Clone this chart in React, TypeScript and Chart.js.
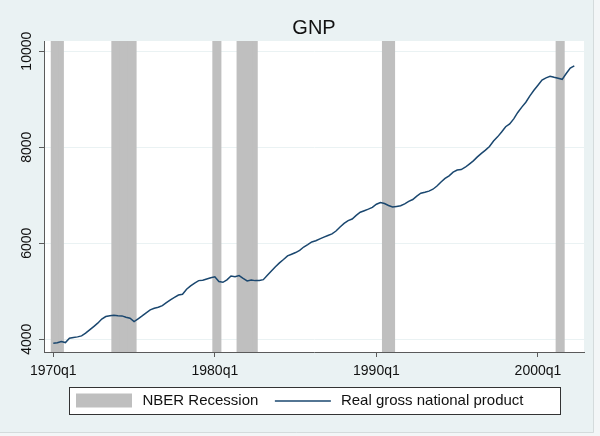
import { useEffect, useRef } from "react";
import { Chart, registerables } from "chart.js";

Chart.register(...registerables);

// Quarter indices count from 1970q1
const START_YEAR = 1970;

// Real gross national product, quarterly, 1970q1 – 2002q2
const gnp1970s = [
  3917, 3924, 3951, 3930, // 1970
  4021, 4035, 4048, 4069, // 1971
  4125, 4194, 4263, 4333, // 1972
  4420, 4471, 4490, 4499, // 1973
  4490, 4485, 4457, 4437, // 1974
  4367, 4425, 4485, 4550, // 1975
  4610, 4645, 4665, 4700, // 1976
  4760, 4820, 4870, 4920, // 1977
  4935, 5040, 5110, 5170, // 1978
  5220, 5230, 5255, 5280, // 1979
];
const gnp1980s = [
  5300, 5200, 5185, 5235, // 1980
  5315, 5300, 5325, 5265, // 1981
  5215, 5234, 5220, 5222, // 1982
  5240, 5330, 5420, 5510, // 1983
  5590, 5660, 5735, 5770, // 1984
  5805, 5850, 5920, 5970, // 1985
  6025, 6050, 6090, 6125, // 1986
  6160, 6195, 6253, 6337, // 1987
  6412, 6471, 6504, 6580, // 1988
  6645, 6676, 6709, 6745, // 1989
];
const gnp1990s = [
  6811, 6848, 6827, 6785, // 1990
  6753, 6766, 6780, 6820, // 1991
  6870, 6910, 6980, 7040, // 1992
  7060, 7085, 7124, 7190, // 1993
  7276, 7348, 7403, 7480, // 1994
  7523, 7534, 7582, 7648, // 1995
  7714, 7797, 7871, 7940, // 1996
  8015, 8130, 8215, 8316, // 1997
  8426, 8484, 8590, 8723, // 1998
  8835, 8936, 9070, 9186, // 1999
];
const gnp2000s = [
  9292, 9400, 9445, 9477, // 2000
  9455, 9437, 9414, 9535, // 2001
  9648, 9693, // 2002
];
const gnp = [...gnp1970s, ...gnp1980s, ...gnp1990s, ...gnp2000s];

// NBER recession quarters within the sample (first and last shaded quarter)
const recessionStarts = ["1970q1", "1973q4", "1980q1", "1981q3", "1990q3", "2001q2"];
const recessionEnds = ["1970q3", "1975q1", "1980q2", "1982q3", "1991q1", "2001q3"];

// Axis ticks
const xTickLabels = ["1970q1", "1980q1", "1990q1", "2000q1"];
const yTickValues = [4000, 6000, 8000, 10000];

const TITLE = "GNP";
const LINE_LABEL = "Real gross national product";
const RECESSION_LABEL = "NBER Recession";

// Axis extents
const X_MIN = -2.3;
const X_MAX = 131.4;
const Y_MIN = 3733;
const Y_MAX = 10212;

// Styling
const FONT = "'Liberation Sans', Arial, Helvetica, sans-serif";
const BG = "#eaf2f3";
const NAVY = "#1a476f";
const SHADE = "#bfbfbf";
const GRID = "#eaf2f3";
const AXIS = "#5a5a5a";
const TEXT = "#111111";

const quarterIndex = (label: string) => {
  const [y, q] = label.split("q");
  return (Number(y) - START_YEAR) * 4 + (Number(q) - 1);
};
const quarterLabel = (i: number) =>
  `${START_YEAR + Math.floor(i / 4)}q${(i % 4) + 1}`;

const recessionQuarters: number[] = [];
recessionStarts.forEach((s, k) => {
  for (let q = quarterIndex(s); q <= quarterIndex(recessionEnds[k]); q++) {
    recessionQuarters.push(q);
  }
});

// Graph region background, plot region fill and outer frame
const backdrop = {
  id: "backdrop",
  beforeDraw(chart: any) {
    const { ctx, chartArea, width, height } = chart;
    ctx.save();
    ctx.fillStyle = "#f3f6f7";
    ctx.fillRect(0, 0, width, height);
    ctx.fillStyle = BG;
    ctx.fillRect(0, 0, width - 6, height - 3);
    ctx.strokeStyle = "#d4dbdc";
    ctx.lineWidth = 1;
    ctx.beginPath();
    ctx.moveTo(width - 6.5, 0);
    ctx.lineTo(width - 6.5, height - 3.5);
    ctx.lineTo(0, height - 3.5);
    ctx.stroke();
    ctx.fillStyle = "#ffffff";
    ctx.fillRect(
      chartArea.left,
      chartArea.top,
      chartArea.right - chartArea.left,
      chartArea.bottom - chartArea.top
    );
    ctx.restore();
  },
};

// Boxed legend below the x axis, centred on the plot region
const boxedLegend = {
  id: "boxedLegend",
  afterDraw(chart: any) {
    const { ctx, chartArea } = chart;
    const line = chart.data.datasets[0];
    const bars = chart.data.datasets[1];
    const boxW = 491;
    const boxH = 27;
    const cx = (chartArea.left + chartArea.right) / 2;
    const left = Math.round(cx - boxW / 2) + 0.5;
    const top = Math.round(chartArea.bottom + 35) + 0.5;
    const midY = top + 13.5;

    ctx.save();
    ctx.fillStyle = "#ffffff";
    ctx.fillRect(left, top, boxW, boxH);
    ctx.strokeStyle = "#333333";
    ctx.lineWidth = 1;
    ctx.strokeRect(left, top, boxW, boxH);

    ctx.font = `15px ${FONT}`;
    ctx.textBaseline = "middle";
    ctx.textAlign = "left";

    // recession key
    ctx.fillStyle = bars.backgroundColor;
    ctx.fillRect(left + 6.5, top + 6, 56, 14);
    let x = left + 73;
    ctx.fillStyle = TEXT;
    ctx.fillText(bars.label, x, midY);
    x += ctx.measureText(bars.label).width + 16.5;

    // line key
    ctx.strokeStyle = line.borderColor;
    ctx.lineWidth = line.borderWidth;
    ctx.beginPath();
    ctx.moveTo(x, midY);
    ctx.lineTo(x + 56, midY);
    ctx.stroke();
    x += 66;
    ctx.fillStyle = TEXT;
    ctx.fillText(line.label, x, midY);
    ctx.restore();
  },
};

export default function App() {
  const canvasRef = useRef<HTMLCanvasElement>(null);

  useEffect(() => {
    const canvas = canvasRef.current;
    if (!canvas) return;
    Chart.defaults.font.family = FONT;

    const chart = new Chart(canvas, {
      type: "line",
      data: {
        datasets: [
          {
            type: "line",
            label: LINE_LABEL,
            data: gnp.map((v, i) => ({ x: i, y: v })),
            borderColor: NAVY,
            borderWidth: 1.5,
            pointRadius: 0,
            tension: 0,
            fill: false,
            order: 0,
          },
          {
            type: "bar",
            label: RECESSION_LABEL,
            data: recessionQuarters.map((q) => ({ x: q, y: [Y_MIN, Y_MAX] })),
            backgroundColor: SHADE,
            borderWidth: 0,
            barPercentage: 1,
            categoryPercentage: 1,
            inflateAmount: 0.5,
            order: 1,
          } as any,
        ],
      },
      options: {
        responsive: false,
        animation: false,
        devicePixelRatio: 1,
        events: [],
        layout: { padding: { left: 0, right: 16, top: 0, bottom: 54 } },
        plugins: {
          legend: { display: false },
          tooltip: { enabled: false },
          title: {
            display: true,
            text: TITLE,
            color: TEXT,
            fullSize: false,
            font: { size: 20, weight: "normal", family: FONT },
            padding: { top: 16, bottom: 1 },
          },
        },
        scales: {
          x: {
            type: "linear",
            min: X_MIN,
            max: X_MAX,
            offset: false,
            afterBuildTicks: (scale: any) => {
              scale.ticks = xTickLabels.map((l) => ({ value: quarterIndex(l) }));
            },
            afterFit: (scale: any) => {
              scale.height = 30;
            },
            ticks: {
              callback: (v: any) => quarterLabel(Number(v)),
              color: TEXT,
              font: { size: 14, family: FONT },
              padding: 6,
              maxRotation: 0,
              autoSkip: false,
            },
            grid: {
              offset: false,
              drawOnChartArea: false,
              drawTicks: true,
              tickLength: 5,
              tickColor: AXIS,
            },
            border: { display: true, color: AXIS, width: 1 },
          },
          y: {
            type: "linear",
            min: Y_MIN,
            max: Y_MAX,
            afterBuildTicks: (scale: any) => {
              scale.ticks = yTickValues.map((v) => ({ value: v }));
            },
            afterFit: (scale: any) => {
              scale.width = 44;
            },
            ticks: {
              callback: (v: any) => String(v),
              color: TEXT,
              font: { size: 14, family: FONT },
              minRotation: 90,
              maxRotation: 90,
              crossAlign: "center",
              padding: -7.5,
            },
            grid: {
              color: GRID,
              lineWidth: 1,
              drawTicks: true,
              tickLength: 5,
              tickColor: AXIS,
            },
            border: { display: true, color: AXIS, width: 1 },
          },
        },
      },
      plugins: [backdrop, boxedLegend],
    });

    return () => chart.destroy();
  }, []);

  return (
    <div style={{ position: "fixed", left: 0, top: 0, width: 600, height: 436 }}>
      <canvas ref={canvasRef} width={600} height={436} />
    </div>
  );
}
